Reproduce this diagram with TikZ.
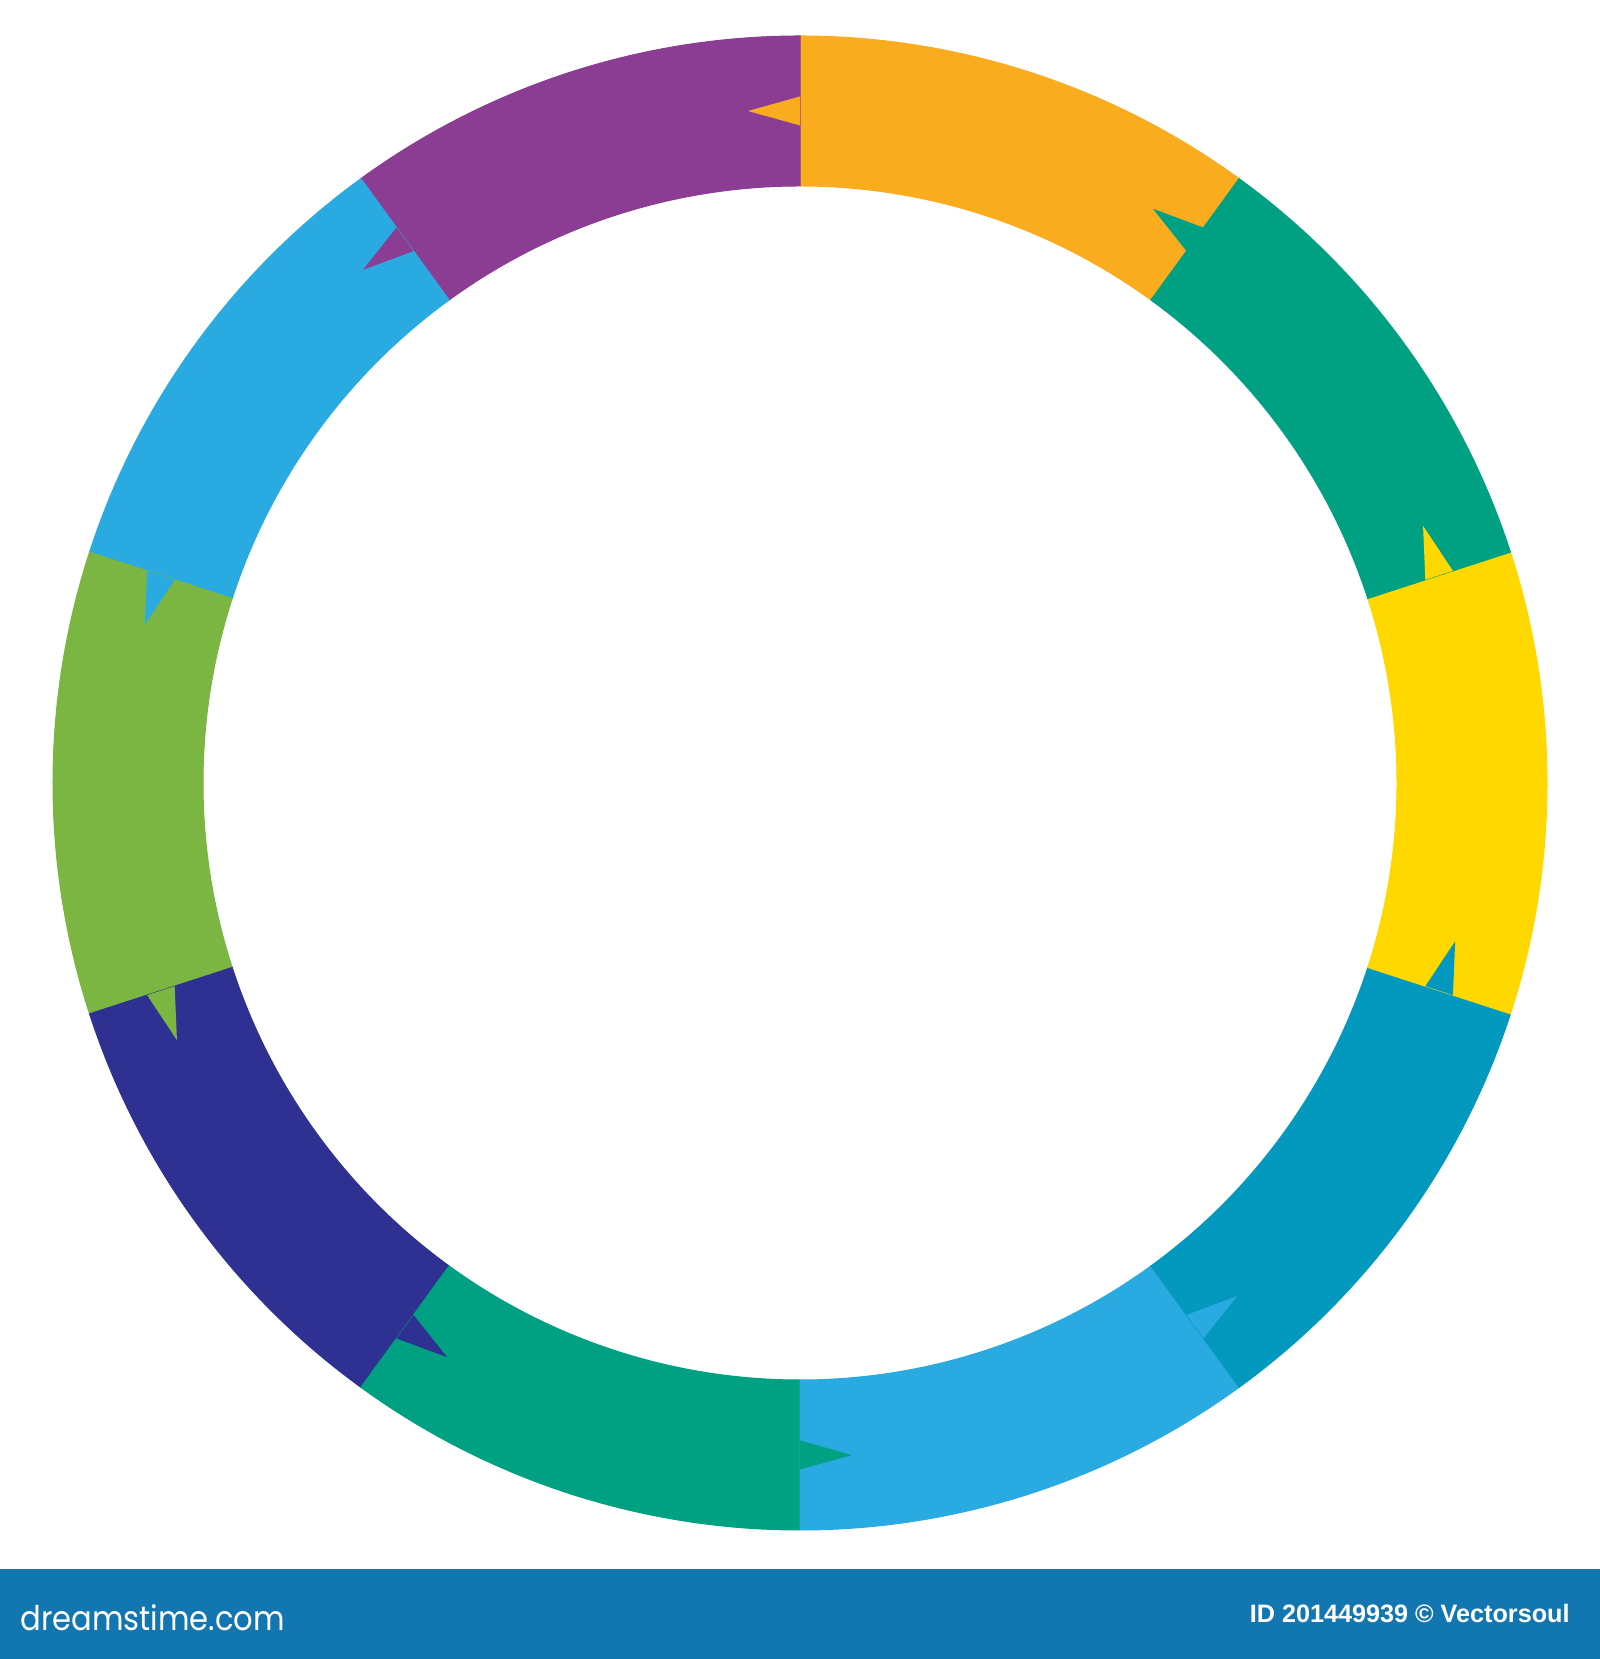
\documentclass[tikz,border=0pt]{standalone}
\usepackage{fontspec}
\newfontfamily\logofont[FakeStretch=0.9]{Poppins}
\newfontfamily\idfont{Liberation Sans}
\usetikzlibrary{calc}
\definecolor{cOrange}{HTML}{FAAC1F}
\definecolor{cPurple}{HTML}{8A3D93}
\definecolor{cSky}{HTML}{29AAE1}
\definecolor{cLime}{HTML}{7AB641}
\definecolor{cIndigo}{HTML}{2E3192}
\definecolor{cGreen}{HTML}{00A183}
\definecolor{cTeal}{HTML}{0399BE}
\definecolor{cYellow}{HTML}{FFD800}
\definecolor{cBanner}{HTML}{1276B0}
\newcommand\ringseg[3]{%
  \fill[#3, draw=#3, line width=0.5pt] ($(C)+(#1:747)$) arc[start angle=#1, end angle=#2, radius=373.5pt]
    -- ($(C)+(#2:597)$) arc[start angle=#2, end angle=#1, radius=298.5pt] -- cycle;}
\newcommand\ringtip[2]{%
  \fill[#2] ($(C)+(#1:657.5)$) -- ($(C)+(#1:672)+(#1+90:52)$) -- ($(C)+(#1:686.5)$) -- cycle;}
\begin{document}
\begin{tikzpicture}[x=0.5pt,y=0.5pt]
\useasboundingbox (0,0) rectangle (1600,1659);
\fill[white] (0,0) rectangle (1600,1659);
\coordinate (C) at (800,876);
% segments
\ringseg{54}{90}{cOrange}
\ringseg{90}{126}{cPurple}
\ringseg{126}{162}{cSky}
\ringseg{162}{198}{cLime}
\ringseg{198}{234}{cIndigo}
\ringseg{234}{270}{cGreen}
\ringseg{270}{306}{cSky}
\ringseg{306}{342}{cTeal}
\ringseg{342}{378}{cYellow}
\ringseg{18}{54}{cGreen}
% arrow tips
\ringtip{90}{cOrange}
\ringtip{126}{cPurple}
\ringtip{162}{cSky}
\ringtip{198}{cLime}
\ringtip{234}{cIndigo}
\ringtip{270}{cGreen}
\ringtip{306}{cSky}
\ringtip{342}{cTeal}
\ringtip{18}{cYellow}
\ringtip{54}{cGreen}
% banner
\fill[cBanner] (0,0) rectangle (1600,90);
\node[anchor=base west, inner sep=0pt, text=white, font=\logofont\fontsize{17}{17}\selectfont] (logo) at (20,28) {dreamstime.com};
\node[anchor=base east, inner sep=0pt, text=white, font=\idfont\bfseries\fontsize{12.6}{14}\selectfont] (id) at (1570,36) {ID 201449939 © Vectorsoul};
\end{tikzpicture}
\end{document}
